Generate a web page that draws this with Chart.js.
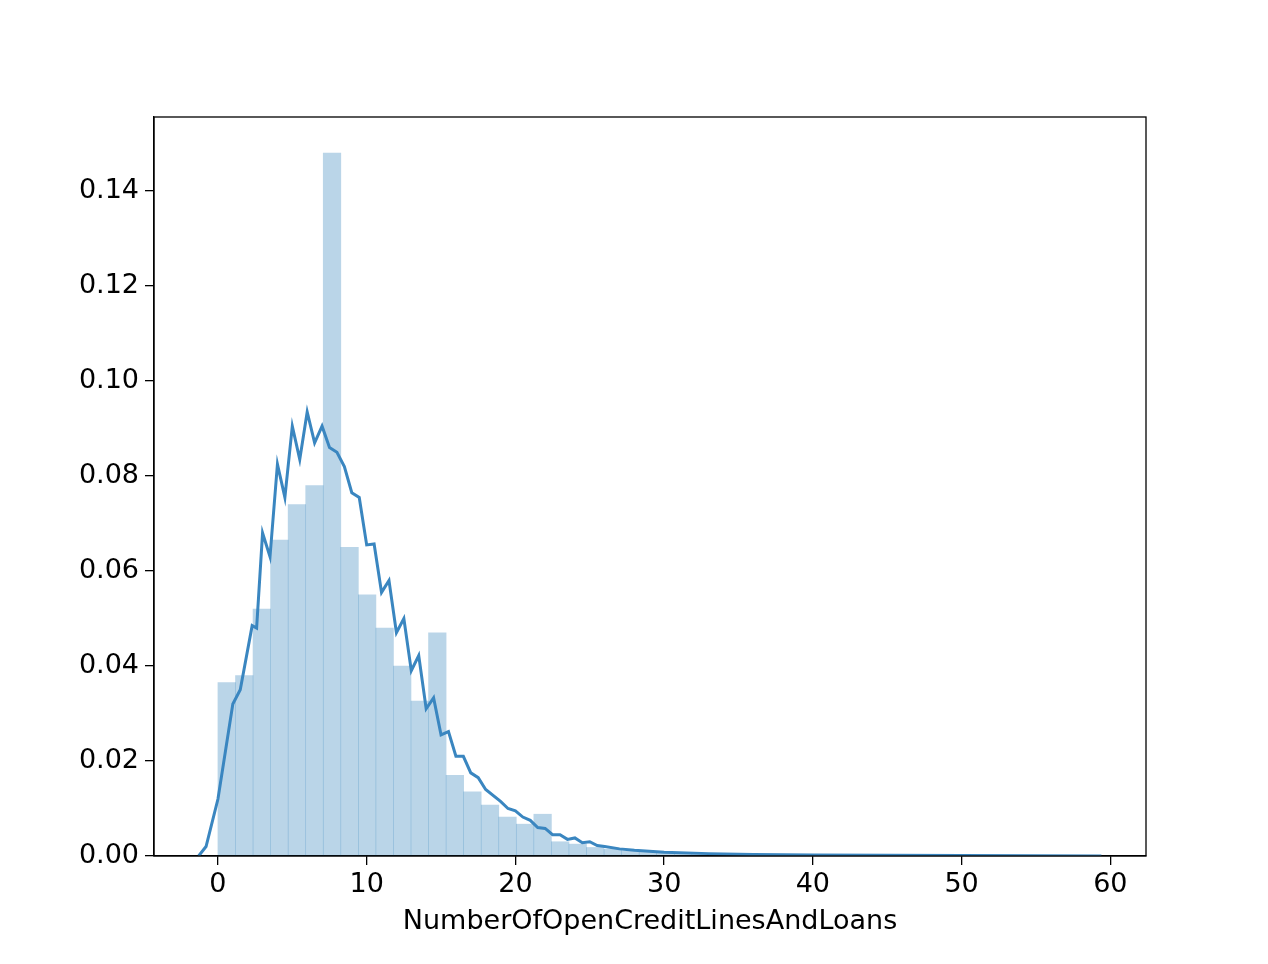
<!DOCTYPE html>
<html>
<head>
<meta charset="utf-8">
<script src="https://cdn.jsdelivr.net/npm/chart.js@4"></script>
<style>
  html, body { margin: 0; padding: 0; background: #fff; }
  #wrap { width: 1268px; height: 964px; }
</style>
</head>
<body>
<div id="wrap"><canvas id="c" width="1268" height="964"></canvas></div>
<script>
// histogram: 50 bins from 0 to 59 (width 1.18)
const binWidth = 1.18;
const binHeights = [
    0.0365, 0.038, 0.052, 0.0665, 0.074, 0.078, 0.148, 0.065, 0.055, 0.048,
    0.040, 0.0326, 0.047, 0.017, 0.0135, 0.0107, 0.0082, 0.0067, 0.0088, 0.003,
    0.0025, 0.0018, 0.0014, 0.0011, 0.0009, 0.0007, 0.0005, 0.0004, 0.0003, 0.00025,
    0.0002, 0.00015, 0.00012, 0.0001, 0.00008, 0.00006, 0.00005, 0.00004, 0.00003, 0.00003,
    0.00002, 0.00002, 0.00001, 0.00001, 0.00001, 0.00001, 0, 0, 0, 0.00001
];

// kde curve
const kdeX = [-1.3, -0.8, 0, 0.5, 1, 1.5, 2.3, 2.6, 3, 3.5, 4, 4.5, 5, 5.5, 6, 6.5, 7, 7.5, 8, 8.5,
    9, 9.5, 10, 10.5, 11, 11.5, 12, 12.5, 13, 13.5, 14, 14.5, 15, 15.5, 16, 16.5, 17, 17.5, 18, 19,
    19.5, 20, 20.5, 21, 21.5, 22, 22.5, 23, 23.5, 24, 24.5, 25, 25.5, 26, 27, 28, 30, 33, 36, 40, 50, 59.4];
const kdeY = [0, 0.002, 0.012, 0.022, 0.032, 0.035, 0.0485, 0.048, 0.068, 0.063, 0.0825, 0.0755, 0.0905, 0.0835, 0.0935, 0.087, 0.0905, 0.086, 0.085, 0.082,
    0.0765, 0.0755, 0.0655, 0.0657, 0.0555, 0.058, 0.047, 0.05, 0.039, 0.0422, 0.031, 0.0333, 0.0255, 0.0262, 0.021, 0.021, 0.0175, 0.0165, 0.014, 0.0115,
    0.010, 0.0095, 0.0082, 0.0075, 0.006, 0.0058, 0.0045, 0.0045, 0.0035, 0.0038, 0.0028, 0.003, 0.0022, 0.002, 0.0015, 0.0012, 0.0008, 0.0005, 0.0003, 0.0002, 0.0001, 0];

const yTicks = [0, 0.02, 0.04, 0.06, 0.08, 0.10, 0.12, 0.14];
const xTicks = [0, 10, 20, 30, 40, 50, 60];

const barData = binHeights.map((h, i) => ({ x: binWidth * (i + 0.5), y: h }));
const kdeData = kdeX.map((x, i) => ({ x: x, y: kdeY[i] }));

const font = { family: "'DejaVu Sans', sans-serif", size: 27 };

new Chart(document.getElementById('c'), {
    data: {
        datasets: [
            {
                type: 'line',
                data: kdeData,
                borderColor: '#3a86c0',
                borderWidth: 3,
                pointRadius: 0,
                tension: 0,
                order: 0
            },
            {
                type: 'bar',
                data: barData,
                backgroundColor: 'rgba(31, 119, 180, 0.31)',
                borderColor: 'rgba(31, 119, 180, 0.31)',
                borderWidth: 0,
                barPercentage: 1,
                categoryPercentage: 1,
                order: 1
            }
        ]
    },
    options: {
        responsive: false,
        animation: false,
        layout: { padding: { left: 0, right: 122, top: 117, bottom: 22 } },
        plugins: { legend: { display: false }, tooltip: { enabled: false } },
        scales: {
            x: {
                type: 'linear',
                offset: false,
                min: -4.3,
                max: 62.4,
                afterBuildTicks: s => { s.ticks = xTicks.map(v => ({ value: v })); },
                afterFit: s => { s.height = 86; },
                ticks: { color: '#000', font: font, padding: 4, maxRotation: 0 },
                grid: { drawOnChartArea: false, offset: false, color: '#000', tickLength: 9, lineWidth: 1.3 },
                border: { color: '#000', width: 1.3 },
                title: { display: true, text: 'NumberOfOpenCreditLinesAndLoans', color: '#000', font: font, padding: { top: 0 } }
            },
            y: {
                min: 0,
                max: 0.1556,
                afterBuildTicks: s => { s.ticks = yTicks.map(v => ({ value: v })); },
                afterFit: s => { s.width = 154; },
                ticks: { color: '#000', font: font, padding: 6, callback: v => v.toFixed(2) },
                grid: { drawOnChartArea: false, color: '#000', tickLength: 9, lineWidth: 1.3 },
                border: { color: '#000', width: 1.3 }
            }
        }
    },
    plugins: [{
        id: 'frame',
        afterDraw(chart) {
            const { ctx, chartArea: a } = chart;
            ctx.save();
            ctx.strokeStyle = '#000';
            ctx.lineWidth = 1.3;
            ctx.strokeRect(a.left, a.top, a.right - a.left, a.bottom - a.top);
            ctx.restore();
        }
    }]
});
</script>
</body>
</html>
